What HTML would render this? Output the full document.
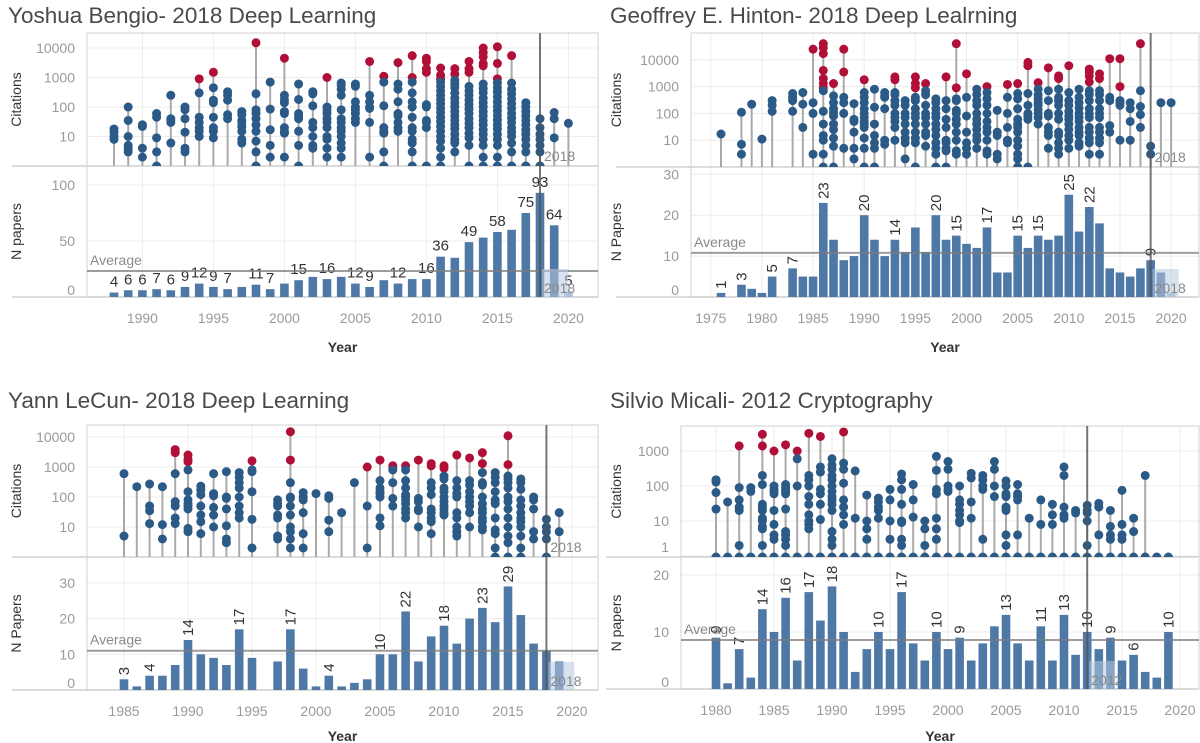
<!DOCTYPE html>
<html><head><meta charset="utf-8"><style>
html,body{margin:0;padding:0;background:#fff;}
svg{display:block;font-family:"Liberation Sans",sans-serif;}
</style></head><body>
<svg id="chart" width="1200" height="743" viewBox="0 0 1200 743" xmlns="http://www.w3.org/2000/svg"></svg>
<script>
// ---------- DATA ----------
const bengioStartYear = 1988;
const bengioPapers = [4,6,6,7,6,9,12,9,7,9,11,7,12,15,18,16,18,12,9,15,12,16,16,36,35,49,53,58,60,75,93,64,5];
const bengioLabelYears = [1988,1989,1990,1991,1992,1993,1994,1995,1996,1998,1999,2001,2003,2005,2006,2008,2010,2011,2013,2015,2017,2018,2019,2020];
const bengioAverage = [23.2];
const bengioCites = [
 [8,10,14,18],[100,35,10,5,4,3],[25,22,4,2],[60,45,9,3,0],[250,40,35,30,6],[100,80,40,14,4,3],
 [900,300,45,30,20,15,10],[1500,450,170,140,45,20,15,9],[330,250,170,55,40],[70,55,35,30,22,15,8,6],
 [15000,280,80,60,40,25,15,7,3,0],[700,85,17,5,2],[4500,250,180,140,70,60,20,15,13,2],[600,180,60,50,40,15,5,0],
 [330,280,110,30,20,10,5,4],[1000,100,80,60,40,30,20,10,8,4,2],[650,550,400,250,80,40,30,20,15,10,6,4,2],
 [600,500,150,100,80,60,40,30],[3500,250,150,100,90,30,2],[1100,700,110,20,15,13,3,0],
 [3200,600,400,150,60,50,30,20,15],[5500,1000,700,300,150,100,45,20,15,8,6,3,0],
 [4500,3500,2000,1500,120,100,35,30,20,0],
 [2100,1200,900,700,500,350,250,180,130,90,65,45,32,22,15,10,7,4,2,0],
 [2000,1300,800,600,450,300,200,140,100,70,50,35,25,18,12,8,6,3],
 [3500,2000,1500,500,350,250,170,120,85,60,40,28,20,13,9,5,0],
 [10000,7000,5000,3000,2500,600,420,300,200,140,100,70,50,35,25,17,12,8,5,2,0],
 [11000,3000,900,650,450,320,220,150,105,75,52,36,25,18,12,8,5,2,0],
 [5500,650,400,280,190,130,90,60,42,30,20,14,10,6,3,0],
 [140,100,70,50,35,25,17,12,8,5,3,1,0],[40,20,12,8,5,3,1,0],[65,40,9],[28]
];

const hintonStartYear = 1976;
const hintonPapers = [1,0,3,2,1,5,0,7,5,5,23,14,9,10,20,14,10,14,11,17,11,20,14,15,13,12,17,6,6,15,12,15,14,15,25,16,22,18,7,6,5,7,9,6,1];
const hintonLabelYears = [1976,1978,1981,1983,1986,1990,1993,1997,1999,2002,2005,2007,2010,2012,2018];
const hintonAverage = [10.8];
const hintonCites = [
 [17],[],[110,7,3],[220],[11],[300,200,120],[],[550,400,300,120],[600,220,30],[25000,250,100,3],
 [40000,28000,17000,4000,2000,1300,900,700,120,40,15,10,3,0],[1300,450,250,150,110,80,40,25,12,6,0],
 [25000,3500,400,250,100,5],[230,60,50,20,5,2],[1800,600,400,250,150,100,70,50,40,30,12,5,0],
 [800,170,40,15,8,5,0],[600,450,400,150,10,7],[2300,1800,600,500,300,200,100,70,50,30,10],
 [300,200,100,70,40,20,12,8,2],[2300,1300,900,400,300,150,100,70,40,20,12,8,0],
 [1300,700,500,200,100,70,40,20,15,6],[350,250,150,100,70,40,25,15,8,5,3,0],
 [2300,300,150,60,30,10,8,5,4,0],[40000,900,350,300,130,100,60,40,20,10,4,3],[3000,400,80,20,8,5,3],
 [800,500,300,200,100,60,40,25,15,10,5],[1000,600,350,200,100,50,30,20,10,4,3],[130,20,15,3,2],
 [1200,400,100,30,10,8],[1300,550,350,150,60,40,30,20,10,6,3,2,0],[8000,6000,550,200,100,80,60,0],
 [1400,800,500,350,250,200,140,100,70,40],[5000,700,300,100,80,30,20,15,5],
 [2500,2000,800,400,300,200,100,60,20,15,8,5,3],[6000,600,300,200,120,80,60,40,25,15,10,5],
 [800,400,250,160,100,70,50,30,20,15,8,6],[4500,3500,2500,1500,700,500,300,150,100,70,30,20,12,8,3],
 [3000,2000,700,500,300,150,100,70,30,20,12,8,3],[11000,400,300,35,20],[11000,1000,300,250,200,10],
 [250,150,50,10],[40000,700,180,90,30],[6,3],[250],[250]
];

const lecunStartYear = 1985;
const lecunPapers = [3,1,4,4,7,14,10,9,7,17,9,0,8,17,6,1,4,1,2,3,10,10,22,8,15,18,13,20,23,19,29,21,13,11,8];
const lecunLabelYears = [1985,1987,1990,1994,1998,2001,2005,2007,2010,2013,2015];
const lecunAverage = [11];
const lecunCites = [
 [600,5],[220],[270,50,35,13],[220,12,4],[3800,3000,600,70,50,20,13],[2500,1800,1500,800,150,80,60,50,40,9,7],
 [230,170,120,50,25,15,6],[600,130,110,45,25,10],[700,100,90,40,11,4,3],[650,450,300,200,100,50,30,20],
 [1600,800,700,150,18,2],[],[80,60,50,25,20,5,4],[15000,1700,300,100,90,50,25,10,7,4,2],[140,100,80,30,6,2],
 [130],[110,90,17,7],[30],[300],[1000,50,2],[1700,350,200,150,130,100,20,11],[1100,900,800,300,90,50],
 [1100,800,350,200,120,100,80,60,40,30,20],[1700,90,70,40,35,10],[1300,1100,300,200,120,40,30,20,15,6],
 [1100,900,500,400,200,150,100,70,50,40,30,25],[2500,350,200,130,100,30,20,10,7,5],
 [2000,350,250,150,100,70,50,30,10],[3000,1300,650,300,250,100,60,40,30,20,15,10,8],
 [650,450,300,150,80,60,20,8,6,2,0],[11000,1200,500,400,300,200,100,70,40,20,10,5,3,0],
 [400,300,180,80,50,30,20,15,10,5,2,0],[100,80,40,7,4],[18,10,7,4,0],[30,7]
];

const micaliStartYear = 1980;
const micaliPapers = [9,1,7,2,14,10,16,5,17,12,18,10,3,7,10,7,17,8,5,10,7,9,5,8,11,13,8,5,11,5,13,6,10,7,9,5,6,3,2,10];
const micaliLabelYears = [1980,1982,1984,1986,1988,1990,1994,1996,1999,2001,2005,2008,2010,2012,2014,2016,2019];
const micaliAverage = [8.6];
const micaliCites = [
 [150,130,65,22,0],[35,0],[1400,90,40,25,20,2,0],[90,70,0],[3000,1400,200,110,30,25,20,12,10,7,6,2,0],
 [1000,100,80,70,60,20,8,4,3,0],[1500,110,90,80,70,60,22,5,4,3,2,0],[1000,600,100,0],
 [3200,200,150,100,50,30,15,10,8,6,0],[2600,350,250,80,60,30,11,0],
 [600,400,300,200,150,100,70,50,40,30,20,5,3,2,0],[3500,450,300,120,40,25,15,8,0],[270,12,0],
 [55,10,6,3,0],[45,35,25,20,12,0],[80,40,10,3,0],[220,150,80,30,10,9,3,2,0],[110,40,13,0],[10,6,2,0],
 [700,280,80,60,12,6,3,0],[500,300,100,80,70,0],[100,40,30,20,15,10,9,0],[230,170,35,12,0],[200,150,100,80,3,0],
 [500,300,100,50,0],[140,100,60,50,25,20,4,2,0],[110,60,50,40,4,0],[12,0],[40,8,0],[30,15,8,0],
 [350,200,25,15,12,0],[20,17,0],[28,20,17,10,2,0],[32,25,4,0],[20,7,4,3,0],[75,8,4,3,0],[12,5,0],[200,0],[0],[0]
];

// ---------- DRAWING ----------
const NS = "http://www.w3.org/2000/svg";
const svg = document.getElementById("chart");
function mk(tag, attrs, parent, name, inter){
  const e = document.createElementNS(NS, tag);
  for (const k in attrs) e.setAttribute(k, attrs[k]);
  
  
  (parent || svg).appendChild(e);
  return e;
}
function txt(str, attrs, parent, name){
  const t = mk('text', attrs, parent, name, false);
  t.textContent = str;
  return t;
}

const panels = [
 {id:'bengio', title:'Yoshua Bengio- 2018 Deep Learning', tx:8, ty:23, left:87, right:598, top:33, mid:166, base:297,
  yr0:bengioStartYear, x0:114, step:14.2, logBase:166, decade:29.5, barScale:1.12, barTicks:[0,50,100],
  citeTicks:[10,100,1000,10000], papers:bengioPapers, cites:bengioCites, labels:bengioLabelYears, avg:bengioAverage[0],
  mark:2018, xTicks:[1990,1995,2000,2005,2010,2015,2020], rot:false, yTitle:'N papers', axX:21, topMark:true},
 {id:'hinton', title:'Geoffrey E. Hinton- 2018 Deep Lealrning', tx:610, ty:23, left:691, right:1199, top:33, mid:167, base:297,
  yr0:hintonStartYear, x0:721, step:10.23, logBase:167, decade:26.8, barScale:4.09, barTicks:[0,10,20,30],
  citeTicks:[10,100,1000,10000], papers:hintonPapers, cites:hintonCites, labels:hintonLabelYears, avg:hintonAverage[0],
  mark:2018, xTicks:[1975,1980,1985,1990,1995,2000,2005,2010,2015,2020], rot:true, yTitle:'N Papers', axX:621, topMark:true},
 {id:'lecun', title:'Yann LeCun- 2018 Deep Learning', tx:8, ty:408, left:87, right:598, top:425, mid:557, base:690,
  yr0:lecunStartYear, x0:124, step:12.8, logBase:557, decade:30, barScale:3.57, barTicks:[0,10,20,30],
  citeTicks:[10,100,1000,10000], papers:lecunPapers, cites:lecunCites, labels:lecunLabelYears, avg:lecunAverage[0],
  mark:2018, xTicks:[1985,1990,1995,2000,2005,2010,2015,2020], rot:true, yTitle:'N Papers', axX:21, topMark:true},
 {id:'micali', title:'Silvio Micali- 2012 Cryptography', tx:610, ty:408, left:681, right:1199, top:426, mid:557, base:689,
  yr0:micaliStartYear, x0:716, step:11.6, logBase:556, decade:35, barScale:5.7, barTicks:[0,10,20],
  citeTicks:[1,10,100,1000], papers:micaliPapers, cites:micaliCites, labels:micaliLabelYears, avg:micaliAverage[0],
  mark:2012, xTicks:[1980,1985,1990,1995,2000,2005,2010,2015,2020], rot:true, yTitle:'N papers', axX:621, topMark:false}
];

const BAR='#4e78a6', DOT='#2b5a87', RED='#b01038', GRID='#ececec', TICK='#9a9a9a';

panels.forEach(p => {
  const g = mk('g', {}, svg, p.id + '-panel', false);
  const xOf = yr => p.x0 + (yr - p.yr0) * p.step;
  const yCite = v => v <= 0 ? p.mid : Math.min(p.mid, p.logBase - p.decade * Math.log10(v));
  const yBar = v => p.base - v * p.barScale;

  txt(p.title, {x:p.tx, y:p.ty, 'font-size':22.5, fill:'#4a4a4a'}, g, p.id + '-title');

  const cp = mk('clipPath', {id:'clip-'+p.id}, g, p.id + '-clip', false);
  mk('rect', {x:p.left, y:p.top, width:p.right-p.left, height:p.mid-p.top}, cp, p.id + '-clip-rect', false);

  p.xTicks.forEach(yr => {
    mk('line', {x1:xOf(yr), x2:xOf(yr), y1:p.top, y2:p.base, stroke:GRID, 'stroke-width':1}, g, p.id + '-x-grid', false);
    txt(String(yr), {x:xOf(yr), y:p.base+26, 'font-size':14, fill:TICK, 'text-anchor':'middle'}, g, p.id + '-x-tick-label');
  });
  p.citeTicks.forEach(v => {
    const y = p.logBase - p.decade * Math.log10(v);
    mk('line', {x1:p.left, x2:p.right, y1:y, y2:y, stroke:GRID, 'stroke-width':1}, g, p.id + '-citation-grid', false);
    const ly = Math.min(y, p.mid - 10);
    txt(String(v), {x:p.left-12, y:ly+5, 'font-size':14, fill:TICK, 'text-anchor':'end'}, g, p.id + '-citation-tick-label');
  });
  p.barTicks.forEach(v => {
    const y = yBar(v);
    mk('line', {x1:p.left, x2:p.right, y1:y, y2:y, stroke:GRID, 'stroke-width':1}, g, p.id + '-bar-grid', false);
    const ly = v === 0 ? y - 7 : y;
    txt(String(v), {x:p.left-12, y:ly+5, 'font-size':14, fill:TICK, 'text-anchor':'end'}, g, p.id + '-bar-tick-label');
  });

  mk('rect', {x:p.left, y:p.top, width:p.right-p.left, height:p.base-p.top, fill:'none', stroke:'#d8d8d8', 'stroke-width':1.2}, g, p.id + '-frame', false);
  mk('line', {x1:p.left-75, x2:p.right, y1:p.mid, y2:p.mid, stroke:'#d0d0d0', 'stroke-width':1.5}, g, p.id + '-divider', false);
  mk('line', {x1:p.left-75, x2:p.right, y1:p.base, y2:p.base, stroke:'#d0d0d0', 'stroke-width':1.5}, g, p.id + '-baseline', false);

  txt('Citations', {x:p.axX, y:(p.top+p.mid)/2, 'font-size':14, fill:'#333', 'text-anchor':'middle', transform:'rotate(-90 '+p.axX+' '+((p.top+p.mid)/2)+')'}, g, p.id + '-citations-axis-title');
  txt(p.yTitle, {x:p.axX, y:(p.mid+p.base)/2, 'font-size':14, fill:'#333', 'text-anchor':'middle', transform:'rotate(-90 '+p.axX+' '+((p.mid+p.base)/2)+')'}, g, p.id + '-papers-axis-title');
  txt('Year', {x:(p.left+p.right)/2, y:Math.min(p.base+55, 741), 'font-size':14, fill:'#333', 'text-anchor':'middle', 'font-weight':'bold'}, g, p.id + '-x-axis-title');

  const dg = mk('g', {'clip-path':'url(#clip-'+p.id+')'}, g, p.id + '-citation-dots', false);
  p.cites.forEach((list, i) => {
    if (!list.length) return;
    const x = xOf(p.yr0 + i);
    const maxV = Math.max.apply(null, list);
    mk('line', {x1:x, x2:x, y1:p.mid, y2:yCite(maxV), stroke:'#a9a9a9', 'stroke-width':2}, dg, p.id + '-stem', false);
    list.forEach(v => {
      mk('circle', {cx:x, cy:yCite(v), r:4.5, fill: v >= 900 ? RED : DOT}, dg, p.id + '-paper-dot', true);
    });
  });

  p.papers.forEach((v, i) => {
    const yr = p.yr0 + i;
    const x = xOf(yr);
    const light = yr > p.mark && p.topMark && yr === 2020;
    mk('rect', {x:x-4.3, y:yBar(v), width:8.6, height:v*p.barScale, fill: light ? '#a9bfd8' : BAR}, g, p.id + '-bar-' + yr, true);
  });
  p.labels.forEach(yr => {
    const i = yr - p.yr0;
    const v = p.papers[i];
    const x = xOf(yr), y = yBar(v);
    if (p.rot) {
      txt(String(v), {x:x+5, y:y-4, 'font-size':15, fill:'#333', transform:'rotate(-90 '+(x+5)+' '+(y-4)+')'}, g, p.id + '-bar-value-label');
    } else {
      txt(String(v), {x:x, y:y-6, 'font-size':15, fill:'#333', 'text-anchor':'middle'}, g, p.id + '-bar-value-label');
    }
  });

  const ay = yBar(p.avg);
  mk('line', {x1:p.left, x2:p.right, y1:ay, y2:ay, stroke:'#7d7d7d', 'stroke-width':2, opacity:0.75}, g, p.id + '-average-line', false);
  txt('Average', {x:p.left+3, y:ay-6, 'font-size':14, fill:'#8a8a8a'}, g, p.id + '-average-label');

  const mx = xOf(p.mark);
  mk('line', {x1:mx, x2:mx, y1:p.top, y2:p.base, stroke:'#555', 'stroke-width':2, opacity:0.8}, g, p.id + '-award-year-line', false);
  mk('rect', {x:mx+2, y:p.base-28, width:26, height:28, fill:'#b8cbe0', opacity:0.55}, g, p.id + '-award-year-box', false);
  txt(String(p.mark), {x:mx+4, y:p.base-4, 'font-size':14, fill:'#888'}, g, p.id + '-award-year-label');
  if (p.topMark) {
    txt(String(p.mark), {x:mx+4, y:p.mid-5, 'font-size':14, fill:'#888'}, g, p.id + '-award-year-top-label');
  }
});
</script>
</body></html>
